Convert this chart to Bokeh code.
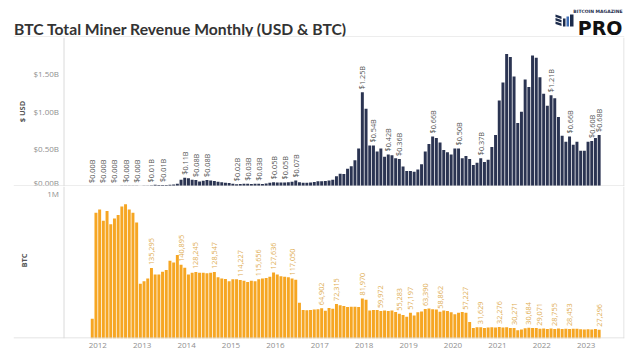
import math
from bokeh.plotting import figure
from bokeh.layouts import column
from bokeh.models import Span, FixedTicker, Range1d
from bokeh.core.properties import value
from bokeh.embed import file_html
from bokeh.resources import INLINE

# ---------------- data ----------------
first_month = "2011-11"

usd_billion = [
    0.001, 0.001,
    0.0015, 0.0012, 0.0011, 0.0011, 0.0011, 0.0015, 0.0021, 0.0025, 0.0026, 0.0026, 0.0024, 0.0014,
    0.0019, 0.0029, 0.008, 0.018, 0.015, 0.013, 0.012, 0.016, 0.019, 0.030, 0.085, 0.110,
    0.105, 0.085, 0.080, 0.060, 0.070, 0.080, 0.075, 0.068, 0.058, 0.050, 0.045, 0.040,
    0.030, 0.024, 0.027, 0.029, 0.030, 0.028, 0.031, 0.030, 0.028, 0.033, 0.042, 0.050,
    0.046, 0.046, 0.048, 0.050, 0.058, 0.072, 0.050, 0.044, 0.044, 0.047, 0.055, 0.062,
    0.065, 0.068, 0.072, 0.085, 0.130, 0.165, 0.160, 0.230, 0.265, 0.345, 0.500, 1.250,
    1.030, 0.540, 0.540, 0.460, 0.500, 0.390, 0.420, 0.410, 0.370, 0.360, 0.260, 0.200,
    0.200, 0.190, 0.220, 0.290, 0.460, 0.560, 0.660, 0.640, 0.580, 0.480, 0.450, 0.420,
    0.500, 0.500, 0.370, 0.400, 0.360, 0.280, 0.310, 0.370, 0.320, 0.350, 0.520, 0.680,
    1.140, 1.380, 1.760, 1.720, 1.460, 0.840, 0.990, 1.420, 1.320, 1.740, 1.710, 1.450,
    1.230, 1.070, 1.210, 1.170, 0.920, 0.670, 0.590, 0.660, 0.550, 0.590, 0.470, 0.470,
    0.590, 0.600, 0.640, 0.680,
]

btc_mined = [
    46600, 232000,
    238000, 218000, 235000, 212000, 222000, 228000, 243000, 247000, 238000, 232000, 215000, 108000,
    112000, 117000, 135295, 124000, 124000, 129000, 132000, 148000, 145000, 158000, 140895, 136000,
    124000, 127000, 128245, 127000, 127000, 126000, 127000, 128547, 119000, 117000, 116000, 112000,
    115500, 115500, 114227, 113000, 111000, 113000, 112000, 115656, 117000, 118000, 120000, 127636,
    124000, 121000, 120000, 119000, 117050, 115000, 74600, 62000, 61500, 62000, 62500, 63000,
    64902, 60500, 65500, 64000, 72315, 70000, 69000, 67000, 67500, 67500, 67000, 81970,
    80000, 61000, 62000, 62000, 59972, 61000, 60000, 61000, 58500, 55283, 53000, 50000,
    57197, 52000, 58000, 59000, 63390, 64500, 63000, 62500, 58862, 61000, 60000, 58000,
    54500, 57000, 58500, 57227, 40800, 30500, 31500, 31629, 30500, 31000, 31500, 31000,
    32276, 31000, 31500, 30500, 30271, 26500, 27500, 30000, 30684, 30500, 30200, 29071,
    29500, 28500, 29500, 28755, 29500, 28500, 28800, 28453, 29000, 28800, 28200, 27500,
    28000, 27800, 28500, 27296,
]

usd_label_months = [
    "2011-11", "2012-02", "2012-05", "2012-08", "2012-11", "2013-03", "2013-06",
    "2013-12", "2014-03", "2014-06", "2015-02", "2015-05", "2015-08", "2015-12",
    "2016-03", "2016-06", "2017-12", "2018-03", "2018-07", "2018-10", "2019-07",
    "2020-02", "2020-08", "2022-03", "2022-08", "2023-02", "2023-04",
]

btc_label_months = [
    "2013-03", "2013-11", "2014-03", "2014-08", "2015-03", "2015-08", "2015-12",
    "2016-05", "2017-01", "2017-05", "2017-12", "2018-05", "2018-10", "2019-01",
    "2019-05", "2019-09", "2020-04", "2020-08", "2021-01", "2021-05", "2021-09",
    "2021-12", "2022-04", "2022-08", "2023-04",
]

usd_tick_values = [0.0, 0.5, 1.0, 1.5]
btc_tick_values = [265000]
btc_tick_labels = ["1M"]
year_ticks = list(range(2012, 2024))

title_text = "BTC Total Miner Revenue Monthly (USD & BTC)"

# ---------------- derived ----------------
y0, m0 = map(int, first_month.split("-"))
months = []
for i in range(len(usd_billion)):
    k = (m0 - 1) + i
    months.append(f"{y0 + k // 12}-{k % 12 + 1:02d}")
xmid = [int(s[:4]) + (int(s[5:]) - 0.5) / 12 for s in months]
idx = {s: i for i, s in enumerate(months)}

# ---------------- styling / layout constants ----------------
NAVY = "#2b3452"
ORANGE = "#f6a623"
LINE = "#dadada"
TICK_C = "#8f8f8f"
FONT = value("Open Sans")

X2012 = 97.3
PX_PER_YEAR = 44.4
def xval(px):
    return 2012 + (px - X2012) / PX_PER_YEAR

BL, FW, BR = 13, 611, 10
xr = Range1d(xval(BL), xval(BL + FW))

HDR_H = 37
TOP_Y0, TOP_H, TOP_BASE, TOP_SCALE = HDR_H, 149, 148.5, 75.0
def top_val(py):
    return (TOP_BASE - py) / TOP_SCALE

BOT_Y0, BOT_H, BOT_BASE, BOT_SCALE, BOT_V0 = TOP_Y0 + TOP_H, 152, 151.5, 0.000571, 12800
def bot_val(py):
    return BOT_V0 + (BOT_BASE - py) / BOT_SCALE

def hy(ref_y):  # header data y from a reference pixel row
    return HDR_H - ref_y

# ---------------- header (same borders as the panels so frames align) ----------------
hdr = figure(frame_width=FW, frame_height=HDR_H, x_range=(BL, BL + FW), y_range=(0, HDR_H),
             min_border_left=BL, min_border_right=BR, min_border_top=0, min_border_bottom=0,
             toolbar_location=None, output_backend="svg",
             x_axis_location=None, y_axis_location=None, outline_line_color=None)
hdr.grid.visible = False
hdr.text(x=[13.5], y=[hy(28)], text=[title_text], text_font=value("Lato"),
         text_font_size="15.7px", text_font_style="bold", text_color="#333333",
         text_align="left", text_baseline="alphabetic")
hdr.segment(x0=[13], y0=[0.5], x1=[624], y1=[0.5], line_color=LINE, line_width=1)
# logo
hdr.text(x=[622], y=[hy(27)], text=["PRO"], text_font=value("DejaVu Sans"),
         text_font_size="19px", text_font_style="bold", text_color="#111111",
         text_align="right", text_baseline="alphabetic")
hdr.text(x=[622], y=[hy(11)], text=["BITCOIN MAGAZINE"], text_font=value("DejaVu Sans"),
         text_font_size="4.5px", text_font_style="bold", text_color="#1c2b4b",
         text_align="right", text_baseline="middle")
sx0, sx1 = 555, 561
strip_x = [[sx0, sx1, sx1, sx0]] * 3
strip_y = [[hy(14), hy(16), hy(18.5), hy(16.5)],
           [hy(17.5), hy(19.5), hy(22), hy(20)],
           [hy(21), hy(23), hy(25.5), hy(23.5)]]
hdr.patches(xs=strip_x, ys=strip_y, fill_color="#1c2b4b", line_color=None)
hdr.quad(left=[562.5, 566, 569.5], right=[565, 568.5, 573],
         bottom=[hy(26)] * 3, top=[hy(18), hy(16), hy(14)],
         fill_color=["#1c2b4b", "#3f6db3", "#1c2b4b"], line_color=None)

# ---------------- top panel (USD) ----------------
top = figure(frame_width=FW, frame_height=TOP_H, x_range=xr,
             y_range=Range1d(top_val(TOP_H), top_val(0)),
             min_border_left=BL, min_border_right=BR, min_border_top=0, min_border_bottom=0,
             x_axis_location=None, y_axis_location=None, toolbar_location=None,
             output_backend="svg", outline_line_color=None)
top.grid.visible = False
top.vbar(x=xmid, top=usd_billion, bottom=0, width=0.8 / 12,
         fill_color=NAVY, line_color=None)

ul_i = [idx[m] for m in usd_label_months]
top.text(x=[xmid[i] for i in ul_i], y=[usd_billion[i] for i in ul_i],
         text=[f"${usd_billion[i]:.2f}B" for i in ul_i],
         angle=math.pi / 2, y_offset=-3, text_align="left", text_baseline="middle",
         text_font=FONT, text_font_size="7.3px", text_color="#555555")

top.text(x=[xval(58.5)] * len(usd_tick_values), y=usd_tick_values,
         text=[f"${v:.2f}B" for v in usd_tick_values],
         y_offset=[-4 if v == 0 else 0 for v in usd_tick_values],
         text_align="right", text_baseline="middle",
         text_font=FONT, text_font_size="8px", text_color=TICK_C)
top.text(x=[xval(21)], y=[top_val(111 - TOP_Y0)], text=["$ USD"], angle=math.pi / 2,
         text_align="center", text_baseline="middle", text_font=FONT,
         text_font_size="7.5px", text_font_style="bold", text_color="#555555")

top.add_layout(Span(location=0, dimension="width", line_color=LINE, line_width=1))
top.add_layout(Span(location=xval(63.5), dimension="height", line_color=LINE, line_width=1))
top.add_layout(Span(location=xval(623.5), dimension="height", line_color=LINE, line_width=1))

# ---------------- bottom panel (BTC) ----------------
bot = figure(frame_width=FW, frame_height=BOT_H, x_range=xr,
             y_range=Range1d(bot_val(BOT_H), bot_val(0)),
             min_border_left=BL, min_border_right=BR, min_border_top=0, min_border_bottom=0,
             x_axis_location="below", y_axis_location=None, toolbar_location=None,
             output_backend="svg", outline_line_color=None)
bot.grid.visible = False
bot.vbar(x=xmid, top=btc_mined, bottom=0, width=0.8 / 12,
         fill_color=ORANGE, line_color=None)

bl_i = [idx[m] for m in btc_label_months]
bot.text(x=[xmid[i] for i in bl_i], y=[btc_mined[i] for i in bl_i],
         text=[f"{btc_mined[i]:,}" for i in bl_i],
         angle=math.pi / 2, y_offset=-3, text_align="left", text_baseline="middle",
         text_font=FONT, text_font_size="7.3px", text_color="#e0ad52")

bot.text(x=[xval(58.5)] * len(btc_tick_values), y=btc_tick_values, text=btc_tick_labels,
         text_align="right", text_baseline="middle",
         text_font=FONT, text_font_size="8px", text_color=TICK_C)
bot.text(x=[xval(23.5)], y=[bot_val(260 - BOT_Y0)], text=["BTC"], angle=math.pi / 2,
         text_align="center", text_baseline="middle", text_font=FONT,
         text_font_size="7.5px", text_font_style="bold", text_color="#555555")

bot.add_layout(Span(location=BOT_V0, dimension="width", line_color=LINE, line_width=1))
bot.add_layout(Span(location=xval(63.5), dimension="height", line_color=LINE, line_width=1))
bot.add_layout(Span(location=xval(623.5), dimension="height", line_color=LINE, line_width=1))

xa = bot.xaxis[0]
xa.ticker = FixedTicker(ticks=year_ticks)
xa.axis_line_color = None
xa.major_tick_line_color = None
xa.minor_tick_line_color = None
xa.major_tick_out = 0
xa.major_tick_in = 0
xa.major_label_standoff = 4
xa.major_label_text_font = "Open Sans"
xa.major_label_text_font_size = "8px"
xa.major_label_text_color = TICK_C

layout = column(hdr, top, bot, spacing=0)

with open("out.html", "w") as f:
    f.write(file_html(layout, INLINE))
